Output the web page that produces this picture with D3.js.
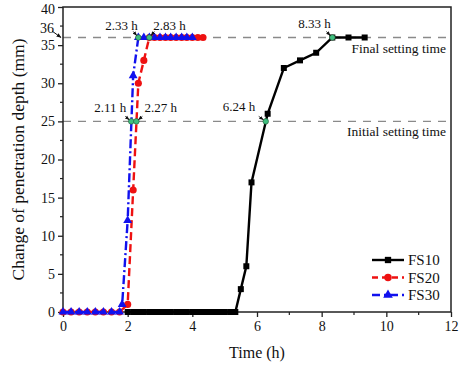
<!DOCTYPE html>
<html><head><meta charset="utf-8">
<script src="https://cdn.jsdelivr.net/npm/d3@7"></script>
<style>body{margin:0;background:#fff}svg{display:block}text{font-family:"Liberation Serif","Times New Roman",serif;fill:#111}</style>
</head><body><svg id="c" width="474" height="372"></svg>
<script>
// ---- data ----
const fs10Time = [2.0,2.17,2.33,2.5,2.67,2.83,3.0,3.17,3.33,3.5,3.67,3.83,4.0,4.17,4.33,4.5,4.67,4.83,5.0,5.17,5.33,5.5,5.67,5.83,6.33,6.83,7.33,7.83,8.33,8.83,9.33];
const fs10Depth = [0,0,0,0,0,0,0,0,0,0,0,0,0,0,0,0,0,0,0,0,0,3,6,17,26,32,33,34,36,36,36];
const fs20Time = [0,0.25,0.5,0.75,1.0,1.25,1.5,1.75,2.0,2.17,2.33,2.5,2.67,2.83,3.0,3.17,3.33,3.5,3.67,3.83,4.0,4.17,4.33];
const fs20Depth = [0,0,0,0,0,0,0,0,1,16,30,33,36,36,36,36,36,36,36,36,36,36,36];
const fs30Time = [0,0.25,0.5,0.75,1.0,1.25,1.5,1.75,1.83,2.0,2.17,2.33,2.5,2.67,2.83,3.0,3.17,3.33,3.5,3.67,3.83,4.0];
const fs30Depth = [0,0,0,0,0,0,0,0,1,12,31,36,36,36,36,36,36,36,36,36,36,36];
const settingLevels = [36, 25];
const settingLabels = ["Final setting time", "Initial setting time"];
const markTime = [2.11, 2.27, 2.33, 2.67, 6.27, 8.33];
const markDepth = [25, 25, 36, 36, 25, 36];
const noteText = ["2.11 h", "2.27 h", "2.33 h", "2.83 h", "6.24 h", "8.33 h"];
const xTicks = [0,2,4,6,8,10,12];
const yTicks = [0,5,10,15,20,25,30,35,40];
const seriesNames = ["FS10","FS20","FS30"];

// ---- chart ----
const svg = d3.select("#c");
const x = d3.scaleLinear().domain([0,12]).range([63,451]);
const y = d3.scaleLinear().domain([0,40]).range([312,7]);

const defs = svg.append("defs");
defs.append("marker").attr("id","ah").attr("viewBox","0 0 10 10").attr("refX",9).attr("refY",5)
  .attr("markerWidth",5).attr("markerHeight",5).attr("orient","auto")
  .append("path").attr("d","M0,1 L10,5 L0,9 Z").attr("fill","#111");

// reference dashed lines
settingLevels.forEach((v,i)=>{
  svg.append("line").attr("x1",x(0)).attr("x2",x(12)).attr("y1",y(v)).attr("y2",y(v))
    .attr("stroke","#8a8a8a").attr("stroke-width",1.4).attr("stroke-dasharray","8,7");
  svg.append("text").attr("x",x(12)-5).attr("y",y(v)+15).attr("text-anchor","end")
    .attr("font-size",13.5).text(settingLabels[i]);
});

// axes
const xAxis = svg.append("g").attr("transform",`translate(0,${y(0)})`)
  .call(d3.axisBottom(x).tickValues(xTicks).tickSize(5).tickSizeOuter(0).tickPadding(4));
const yAxis = svg.append("g").attr("transform",`translate(${x(0)},0)`)
  .call(d3.axisLeft(y).tickValues(yTicks).tickSize(5).tickSizeOuter(0).tickPadding(3));
[xAxis,yAxis].forEach(g=>{
  g.select(".domain").remove();
  g.selectAll("line").attr("stroke","#222").attr("stroke-width",1.3);
  g.selectAll("text").attr("font-size",14).attr("font-family","Liberation Serif").attr("fill","#111");
});
yAxis.selectAll(".tick").filter(d=>d===40).select("text").attr("dy","0.45em");
// minor ticks
svg.append("g").selectAll("line").data(d3.range(1,12,2)).join("line")
  .attr("x1",d=>x(d)).attr("x2",d=>x(d)).attr("y1",y(0)).attr("y2",y(0)+3).attr("stroke","#222").attr("stroke-width",1.2);
svg.append("g").selectAll("line").data(d3.range(2.5,40,5)).join("line")
  .attr("x1",x(0)).attr("x2",x(0)-3).attr("y1",d=>y(d)).attr("y2",d=>y(d)).attr("stroke","#222").attr("stroke-width",1.2);
// frame
svg.append("rect").attr("x",x(0)).attr("y",y(40)).attr("width",x(12)-x(0)).attr("height",y(0)-y(40))
  .attr("fill","none").attr("stroke","#222").attr("stroke-width",1.5);

// "36" label with arrow
svg.append("text").attr("x",40).attr("y",33).attr("font-size",14).text("36");
svg.append("line").attr("x1",52).attr("y1",31).attr("x2",61).attr("y2",y(36)).attr("stroke","#111").attr("stroke-width",1).attr("marker-end","url(#ah)");

// series
const line = d3.line().x(d=>x(d[0])).y(d=>y(d[1]));
const s10 = fs10Time.map((t,i)=>[t,fs10Depth[i]]);
const s20 = fs20Time.map((t,i)=>[t,fs20Depth[i]]);
const s30 = fs30Time.map((t,i)=>[t,fs30Depth[i]]);

function drawSeries(data,color,dash,shape,size){
  svg.append("path").datum(data).attr("d",line).attr("fill","none").attr("stroke",color)
    .attr("stroke-width",2.4).attr("stroke-dasharray",dash);
  svg.append("g").selectAll("path").data(data).join("path")
    .attr("transform",d=>`translate(${x(d[0])},${y(d[1])})`)
    .attr("d",d3.symbol().type(shape).size(size)).attr("fill",color);
}
drawSeries(s10,"#000",null,d3.symbolSquare,36);
drawSeries(s20,"#ee1111","8,4",d3.symbolCircle,40);
drawSeries(s30,"#1111ee","9,3,2,3",d3.symbolTriangle,34);

// green setting markers
svg.append("g").selectAll("circle").data(markTime.map((t,i)=>[t,markDepth[i]])).join("circle")
  .attr("cx",d=>x(d[0])).attr("cy",d=>y(d[1])).attr("r",2.8)
  .attr("fill","#3fbf7f").attr("stroke","#225533").attr("stroke-width",0.6);

// annotations
const noteDx = [-37,8,-33,4,-43,-34];
const noteDy = [-9,-9,-8,-8,-10,-10];
const arrowFrom = [[-6,-5],[6,-5],[-5,-6],[5,-6],[-7,-5],[-6,-6]];
markTime.forEach((t,i)=>{
  const px=x(t), py=y(markDepth[i]);
  svg.append("text").attr("x",px+noteDx[i]).attr("y",py+noteDy[i]).attr("font-size",13).text(noteText[i]);
  svg.append("line").attr("x1",px+arrowFrom[i][0]).attr("y1",py+arrowFrom[i][1])
    .attr("x2",px+arrowFrom[i][0]*0.35).attr("y2",py+arrowFrom[i][1]*0.35)
    .attr("stroke","#111").attr("stroke-width",0.9).attr("marker-end","url(#ah)");
});

// axis titles
svg.append("text").attr("transform",`translate(24,${(y(0)+y(40))/2}) rotate(-90)`).attr("text-anchor","middle")
  .attr("font-size",17.5).text("Change of penetration depth (mm)");
svg.append("text").attr("x",(x(0)+x(12))/2).attr("y",358).attr("text-anchor","middle")
  .attr("font-size",16).text("Time (h)");

// legend
const legColors = ["#000","#ee1111","#1111ee"];
const legDash = [null,"6,4","8,4,2,4"];
const legShapes = [d3.symbolSquare,d3.symbolCircle,d3.symbolTriangle];
const legSizes = [40,44,40];
seriesNames.forEach((n,i)=>{
  const ly = 260 + i*17.5;
  svg.append("line").attr("x1",372).attr("x2",404).attr("y1",ly).attr("y2",ly)
    .attr("stroke",legColors[i]).attr("stroke-width",2.4).attr("stroke-dasharray",legDash[i]);
  svg.append("path").attr("transform",`translate(388,${ly})`).attr("d",d3.symbol().type(legShapes[i]).size(legSizes[i])).attr("fill",legColors[i]);
  svg.append("text").attr("x",408).attr("y",ly+5).attr("font-size",15).text(n);
});
</script></body></html>
